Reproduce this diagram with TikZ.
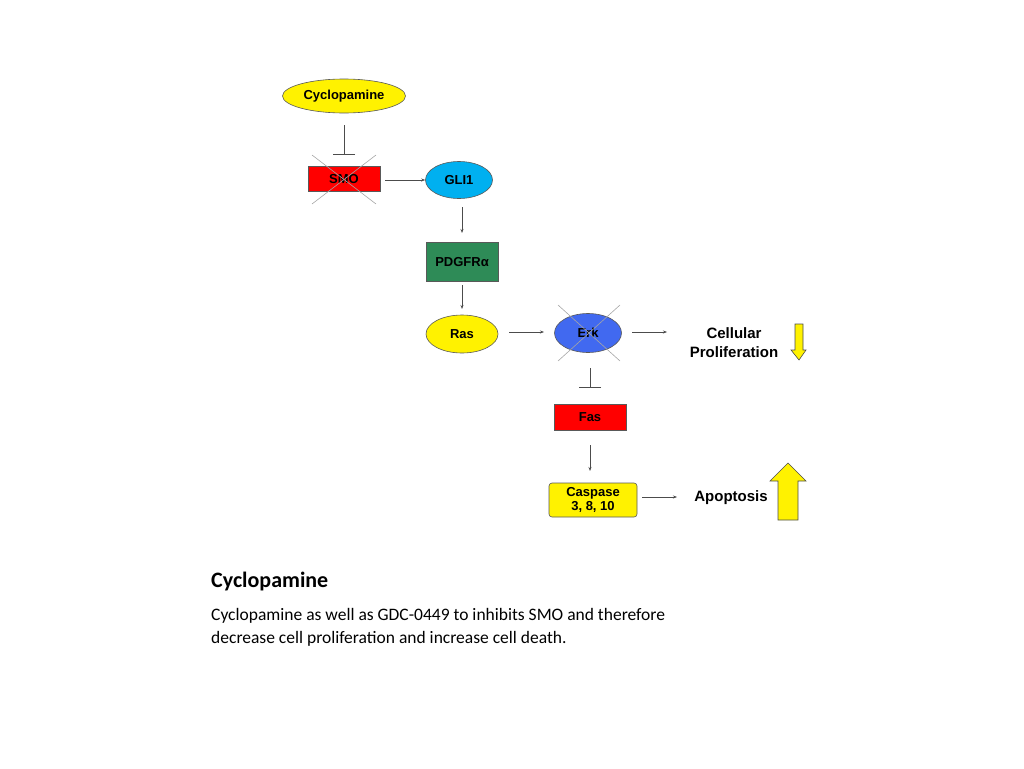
\documentclass[tikz,border=0pt]{standalone}
\usepackage{fontspec}
\setmainfont{Liberation Sans}
\newfontfamily\calibri{Carlito}
\usetikzlibrary{shapes.geometric,arrows.meta}
\begin{document}
\begin{tikzpicture}[x=1pt,y=-1pt,
  lbl/.style={font=\fontsize{13}{15}\selectfont\bfseries, inner sep=0pt},
  ell/.style={ellipse, draw=gray!70!black, line width=0.6pt, lbl},
  box/.style={rectangle, draw=gray!70!black, line width=0.6pt, lbl},
  conn/.style={draw=gray!60!black, line width=0.6pt, -{Stealth[length=4pt,width=3pt]}},
  inh/.style={draw=gray!60!black, line width=0.7pt, -{Bar[width=22pt]}},
  xline/.style={draw=gray!70, line width=0.6pt},
  bigarr/.style={draw=gray!60!black, fill=yellow, line width=0.6pt}]
\useasboundingbox (0,0) rectangle (1024,768);
\node[ell, fill=yellow, minimum width=123pt, minimum height=34pt] (cyc) at (344,96) {Cyclopamine};
\node[box, fill=red, minimum width=72pt, minimum height=25pt] (smo) at (344,179) {SMO};
\node[ell, fill={rgb,255:red,0;green,176;blue,240}, minimum width=67pt, minimum height=37pt] (gli) at (459,180) {GLI1};
\node[box, fill={rgb,255:red,46;green,139;blue,87}, minimum width=72pt, minimum height=39pt] (pdg) at (462,262) {PDGFRα};
\node[ell, fill=yellow, minimum width=72pt, minimum height=38pt] (ras) at (462,334) {Ras};
\node[ell, fill={rgb,255:red,65;green,105;blue,240}, minimum width=67pt, minimum height=39pt] (erk) at (588,333) {Erk};
\node[box, fill=red, minimum width=72pt, minimum height=26pt] (fas) at (590,417) {Fas};
\node[box, fill=yellow, rounded corners=3pt, minimum width=88pt, minimum height=34pt, align=center, font=\fontsize{13}{14}\selectfont\bfseries] (cas) at (593,500) {Caspase\\3, 8, 10};
\node[font=\fontsize{15}{19}\selectfont\bfseries, align=center, inner sep=0pt] (cell) at (734,343) {Cellular\\Proliferation};
\node[font=\fontsize{15}{18}\selectfont\bfseries, inner sep=0pt] (apo) at (731,498) {Apoptosis};
% crosses
\draw[xline] (312,155) -- (376,204);
\draw[xline] (312,204) -- (376,155);
\draw[xline] (558,305) -- (620,361);
\draw[xline] (558,361) -- (620,305);
% connectors
\coordinate (i1) at (344,125);
\coordinate (i1e) at (344,155);
\draw[inh] (i1) -- (i1e);
\draw[conn] (385,180) -- (gli.west);
\draw[conn] (462,207) -- (462,233);
\draw[conn] (462,285) -- (462,309);
\draw[conn] (509,332) -- (544,332);
\draw[conn] (632,332) -- (667,332);
\coordinate (i2) at (590,368);
\coordinate (i2e) at (590,388);
\draw[inh] (i2) -- (i2e);
\draw[conn] (590,445) -- (590,471);
\draw[conn] (642,497) -- (677,497);
% big arrows
\draw[bigarr] (795,324) -- (803,324) -- (803,350) -- (806,350) -- (799,360) -- (791,350) -- (795,350) -- cycle;
\draw[bigarr] (778,520) -- (798,520) -- (798,481) -- (806,481) -- (788,463) -- (770,481) -- (778,481) -- cycle;
% caption
\node[anchor=base west, font=\calibri\fontsize{22}{26}\selectfont\bfseries, inner sep=0pt] (h) at (211,587) {Cyclopamine};
\node[anchor=north west, align=left, font=\calibri\fontsize{17.5}{23}\selectfont, inner sep=0pt] (b) at (211,608) {Cyclopamine as well as GDC-0449 to inhibits SMO and therefore\\decrease cell proliferation and increase cell death.};
\end{tikzpicture}
\end{document}
